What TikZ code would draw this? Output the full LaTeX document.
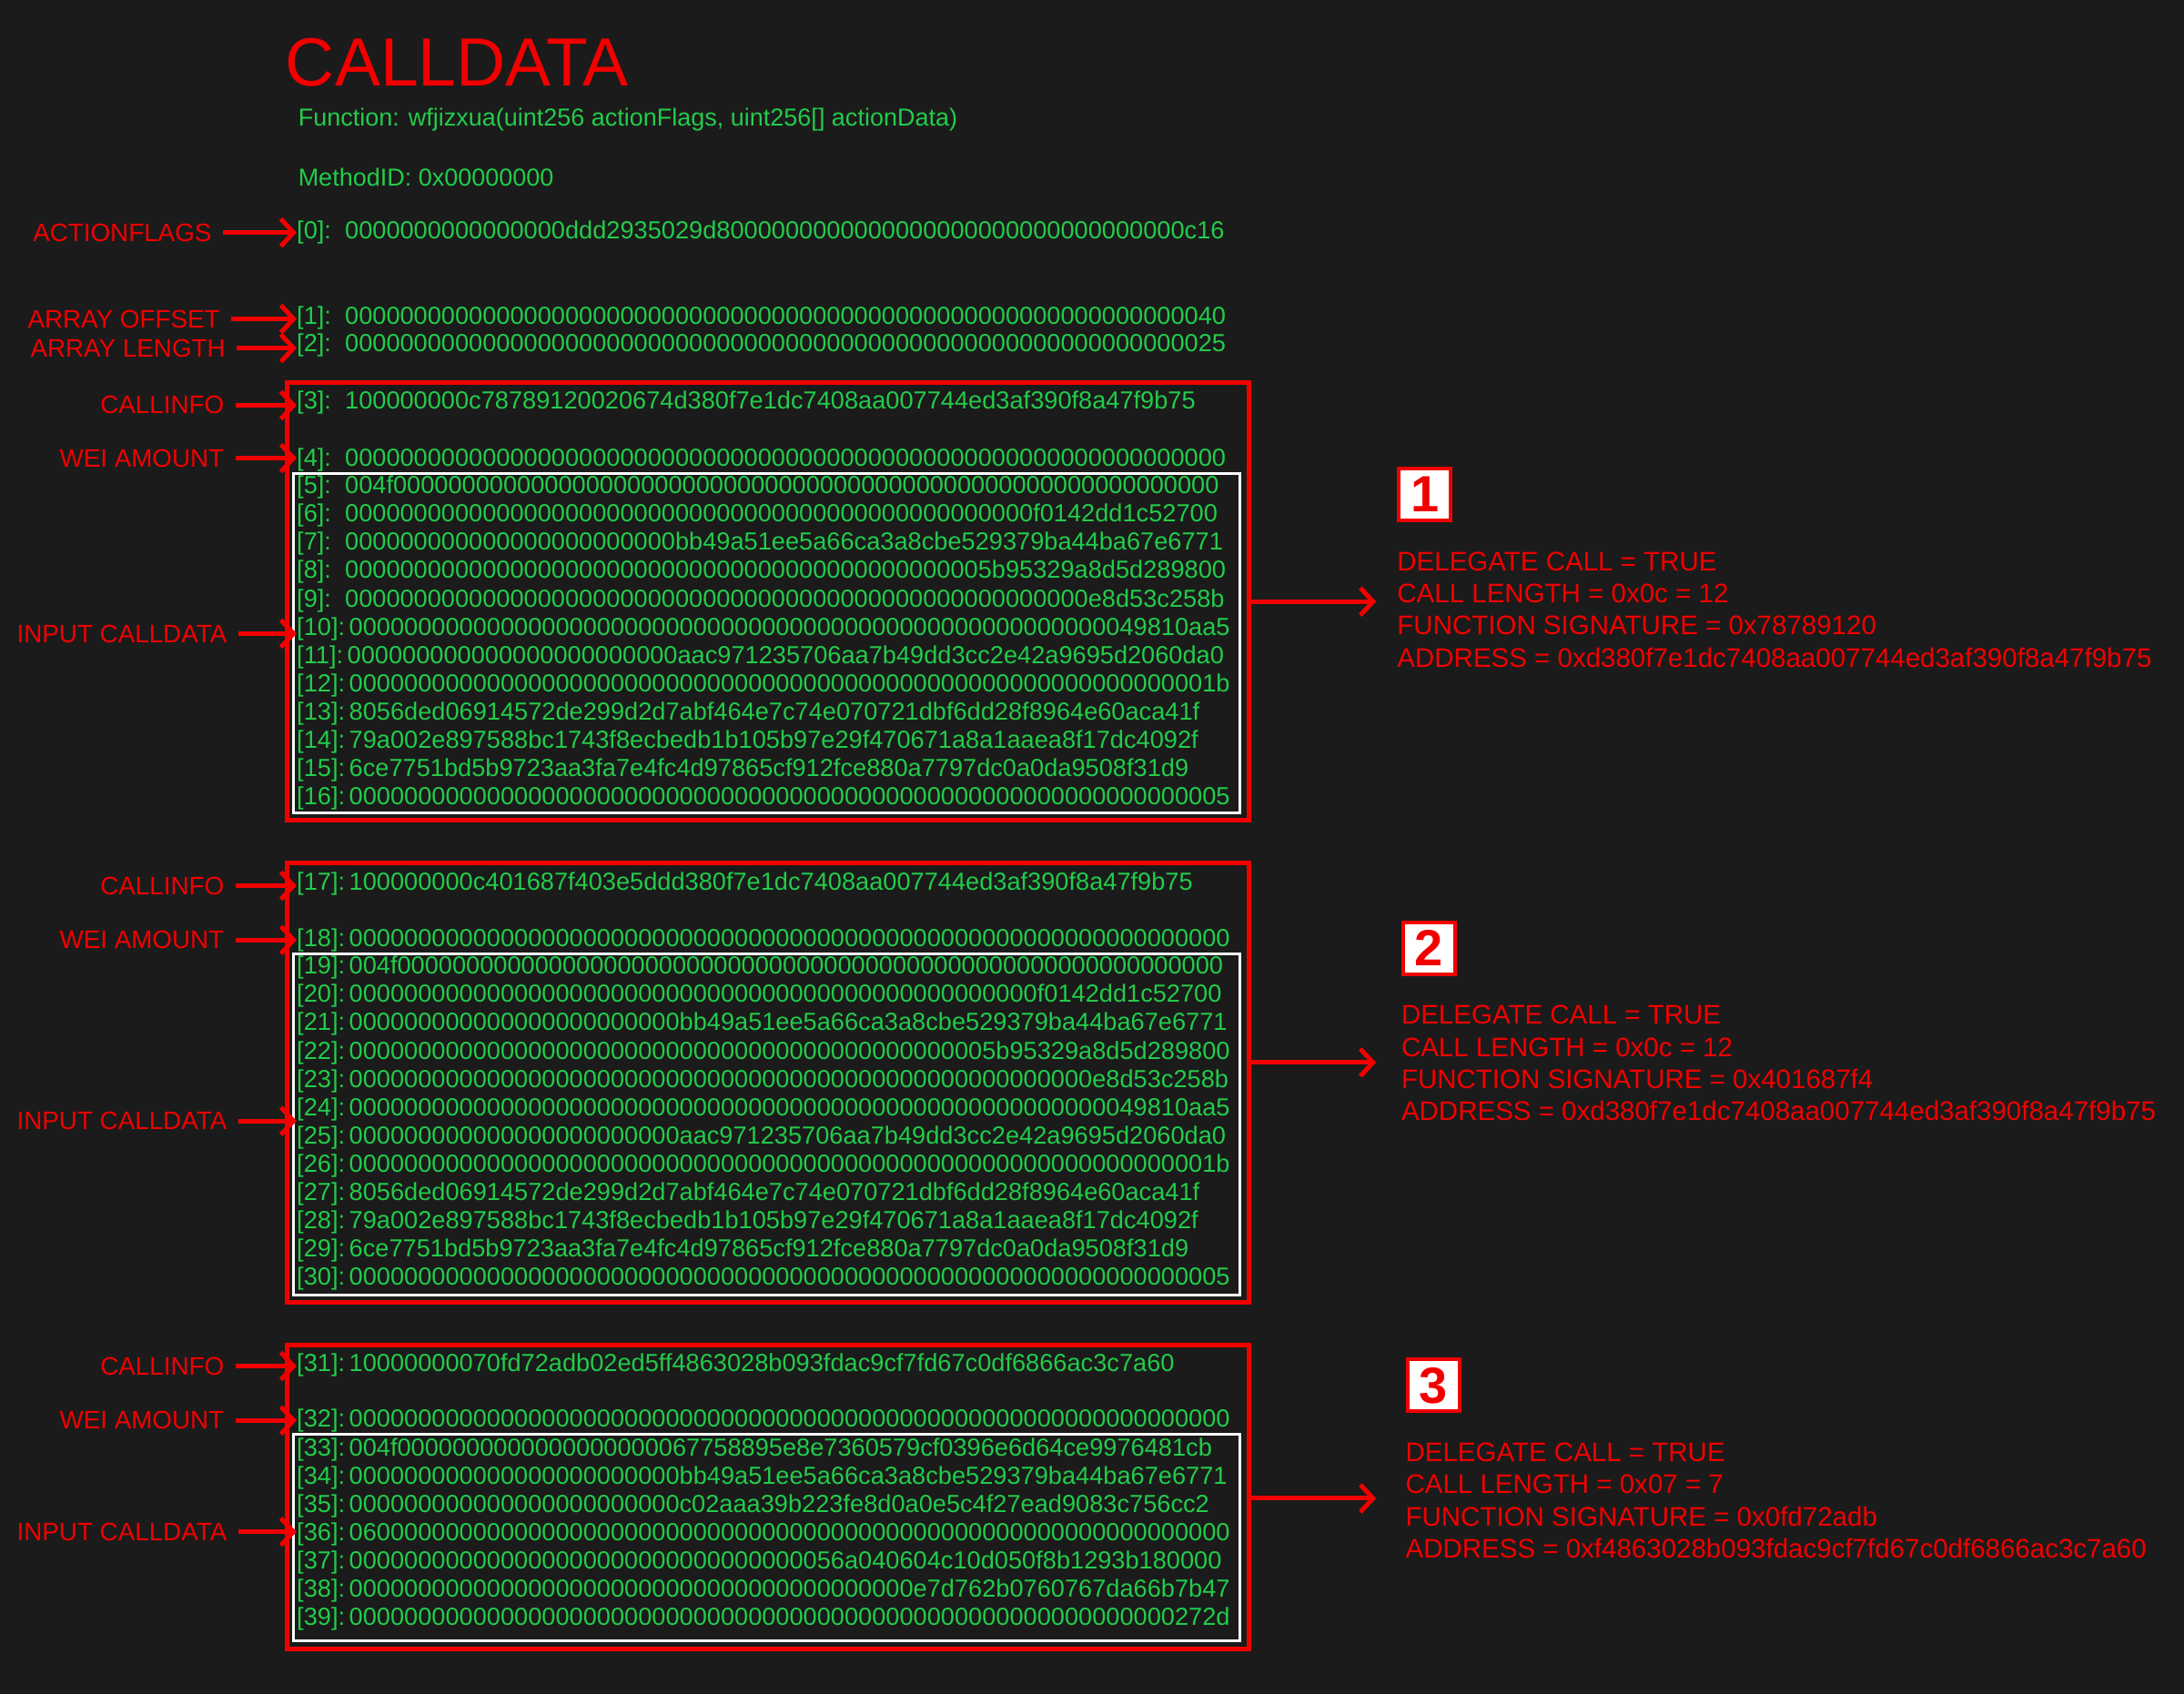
\documentclass[tikz,border=0pt]{standalone}
\usepackage{fontspec}
\setmainfont{Liberation Sans}
\usetikzlibrary{arrows.meta}
\ExplSyntaxOn
\cs_new:Npn \Zs #1 {\prg_replicate:nn{#1}{0}}
\ExplSyntaxOff
\definecolor{bg}{HTML}{1B1B1B}
\definecolor{gr}{HTML}{22CC4A}
\definecolor{rd}{HTML}{F20000}
\begin{document}
\begin{tikzpicture}[x=1.5306pt,y=-1.5306pt,
  hex/.style={anchor=west,text=gr,inner sep=0pt,font=\fontsize{27.2}{30}\selectfont},
  lab/.style={anchor=east,text=rd,inner sep=0pt,font=\fontsize{27.8}{30}\selectfont},
  info/.style={anchor=west,text=rd,inner sep=0pt,font=\fontsize{29.5}{32}\selectfont},
  arr/.style={draw=rd,line width=5pt,-{Straight Barb[length=14pt,width=30pt,line width=5pt]}},
  rbox/.style={draw=rd,line width=5pt},
  wbox/.style={draw=white,line width=3pt},
  num/.style={draw=rd,line width=4pt,fill=white,text=rd,minimum size=57pt,inner sep=0pt,font=\fontsize{56}{60}\bfseries\selectfont}]
\fill[bg] (0,0) rectangle (1568,1216.5);
\useasboundingbox (0,0) rectangle (1568,1216.5);
\node[anchor=west,text=rd,inner sep=0pt,font=\fontsize{75}{80}\selectfont] (title) at (205,45) {CALLDATA};
\node[hex,font=\fontsize{27}{30}\selectfont] (fn) at (214,86) {Function: wfjizxua(uint256 actionFlags, uint256[] actionData)};
\node[hex,font=\fontsize{27}{30}\selectfont] (mid) at (214,127) {MethodID: 0x00000000};
% rows
\node[hex] (r0) at (213,167) {[0]:\ \ 0000000000000000ddd2935029d8\Zs{33}c16};
\node[hex] (r1) at (213,228) {[1]:\ \ \Zs{62}40};
\node[hex] (r2) at (213,248) {[2]:\ \ \Zs{62}25};
\newcommand\block[3]{% #1 first index, #2 y of first inner row, #3 prefix
  \foreach \s [count=\k from 0] in {%
    004f\Zs{60},\Zs{50}f0142dd1c52700,\Zs{24}bb49a51ee5a66ca3a8cbe529379ba44ba67e6771,
    \Zs{46}5b95329a8d5d289800,\Zs{54}e8d53c258b,\Zs{56}49810aa5,
    \Zs{24}aac971235706aa7b49dd3cc2e42a9695d2060da0,\Zs{62}1b,
    8056ded06914572de299d2d7abf464e7c74e070721dbf6dd28f8964e60aca41f,
    79a002e897588bc1743f8ecbedb1b105b97e29f470671a8a1aaea8f17dc4092f,
    6ce7751bd5b9723aa3fa7e4fc4d97865cf912fce880a7797dc0a0da9508f31d9,
    \Zs{63}5}{%
    \pgfmathtruncatemacro\idx{#1+\k}
    \node[hex] (#3\idx) at (213,#2+\k*20.3) {[\idx]:\ifnum\idx<10\ \ \else\,\fi\s};
  }}
\node[hex] (r3) at (213,289) {[3]:\ \ 100000000c78789120020674d380f7e1dc7408aa007744ed3af390f8a47f9b75};
\node[hex] (r4) at (213,330) {[4]:\ \ \Zs{64}};
\block{5}{350}{r}
\node[hex] (r17) at (213,635) {[17]:\,100000000c401687f403e5ddd380f7e1dc7408aa007744ed3af390f8a47f9b75};
\node[hex] (r18) at (213,675) {[18]:\,\Zs{64}};
\block{19}{695}{r}
\node[hex] (r31) at (213,980) {[31]:\,10000000070fd72adb02ed5ff4863028b093fdac9cf7fd67c0df6866ac3c7a60};
\node[hex] (r32) at (213,1020) {[32]:\,\Zs{64}};
\node[hex] (r33) at (213,1041) {[33]:\,004f\Zs{20}67758895e8e7360579cf0396e6d64ce9976481cb};
\node[hex] (r34) at (213,1061.3) {[34]:\,\Zs{24}bb49a51ee5a66ca3a8cbe529379ba44ba67e6771};
\node[hex] (r35) at (213,1081.6) {[35]:\,\Zs{24}c02aaa39b223fe8d0a0e5c4f27ead9083c756cc2};
\node[hex] (r36) at (213,1101.9) {[36]:\,06\Zs{62}};
\node[hex] (r37) at (213,1122.2) {[37]:\,\Zs{34}56a040604c10d050f8b1293b180000};
\node[hex] (r38) at (213,1142.5) {[38]:\,\Zs{41}e7d762b0760767da66b7b47};
\node[hex] (r39) at (213,1162.8) {[39]:\,\Zs{60}272d};
% boxes
\draw[rbox] (206,275) rectangle (897,589);
\draw[wbox] (211,340) rectangle (890,584);
\draw[rbox] (206,620) rectangle (897,935);
\draw[wbox] (211,685) rectangle (890,930);
\draw[rbox] (206,966) rectangle (897,1184);
\draw[wbox] (211,1030) rectangle (890,1178);
% left labels
\newcommand\lbl[4]{\node[lab] (#1) at (#3,#2) {#4};
  \coordinate (#1t) at (213,#2);
  \draw[arr] (#1.east) ++(8,0) -- (#1t);}
\lbl{lA}{167}{152}{ACTIONFLAGS}
\lbl{lB}{229}{158}{ARRAY OFFSET}
\lbl{lC}{250}{162}{ARRAY LENGTH}
\lbl{lD}{291}{161}{CALLINFO}
\lbl{lE}{329}{161}{WEI AMOUNT}
\lbl{lF}{455}{163}{INPUT CALLDATA}
\lbl{lG}{636}{161}{CALLINFO}
\lbl{lH}{675}{161}{WEI AMOUNT}
\lbl{lI}{805}{163}{INPUT CALLDATA}
\lbl{lJ}{981}{161}{CALLINFO}
\lbl{lK}{1020}{161}{WEI AMOUNT}
\lbl{lL}{1100}{163}{INPUT CALLDATA}
% right side
\newcommand\summ[8]{% #1 id, #2 arrow y, #3 x, #4 num y, #5 num, #6 len, #7 sig, #8 addr
  \coordinate (#1s) at (897,#2); \coordinate (#1e) at (988,#2);
  \draw[arr] (#1s) -- (#1e);
  \node[num] (#1n) at (#3+20,#4) {#5};
  \node[info] (#1a) at (#3,#4+48) {DELEGATE CALL = TRUE};
  \node[info] (#1b) at (#3,#4+71) {CALL LENGTH = #6};
  \node[info] (#1c) at (#3,#4+94) {FUNCTION SIGNATURE = #7};
  \node[info] (#1d) at (#3,#4+117) {ADDRESS = #8};}
\summ{s1}{432}{1003}{355}{1}{0x0c = 12}{0x78789120}{0xd380f7e1dc7408aa007744ed3af390f8a47f9b75}
\summ{s2}{763}{1006}{681}{2}{0x0c = 12}{0x401687f4}{0xd380f7e1dc7408aa007744ed3af390f8a47f9b75}
\summ{s3}{1076}{1009}{995}{3}{0x07 = 7}{0x0fd72adb}{0xf4863028b093fdac9cf7fd67c0df6866ac3c7a60}
\end{tikzpicture}
\end{document}
